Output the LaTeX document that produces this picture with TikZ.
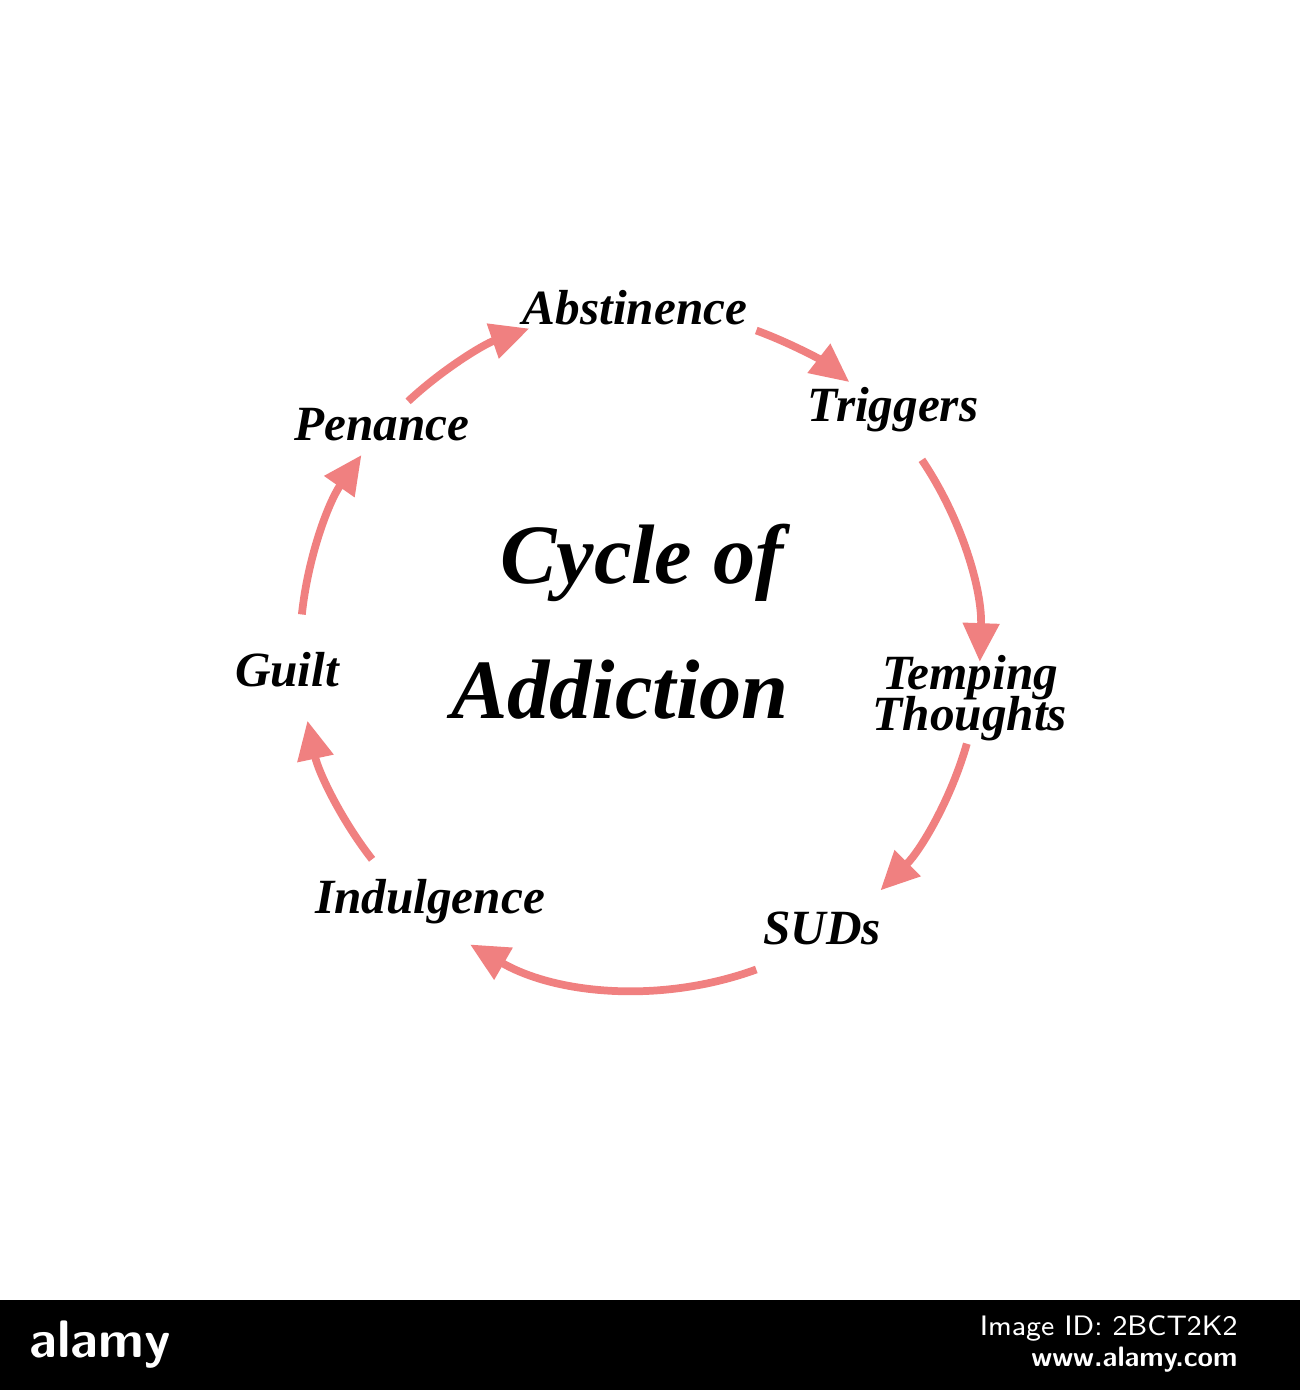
\documentclass[tikz,border=0pt]{standalone}
\usepackage{fontspec}
\setmainfont{Liberation Serif}
\usetikzlibrary{arrows.meta}
\definecolor{arr}{RGB}{240,128,128}
\begin{document}
\begin{tikzpicture}[x=0.01cm,y=0.01cm,
  lab/.style={font=\fontsize{14}{14}\selectfont\bfseries\itshape,inner sep=0},
  ttl/.style={font=\fontsize{24}{24}\selectfont\bfseries\itshape,inner sep=0},
  cyc/.style={draw=arr,line width=2.2pt,-{Triangle[length=11pt,width=10pt]}}]
\fill[white] (0,0) rectangle (1300,1390);
\useasboundingbox (0,0) rectangle (1300,1390);
\coordinate (c) at (640,740);
\node[lab] (abs) at (635,1082) {Abstinence};
\node[lab,align=center] (tmp) at (970,692) {Temping\\[-2.5pt]Thoughts};
\node[lab] (trg) at (893,980) {Triggers};
\node[lab] (sud) at (822,462) {SUDs};
\node[lab] (ind) at (430,488) {Indulgence};
\node[lab] (glt) at (287,720) {Guilt};
\node[lab] (pen) at (382,965) {Penance};
\node[ttl] (t1) at (642,827) {Cycle of};
\node[ttl] (t2) at (620,700) {Addiction};
\draw[cyc] (c) ++(70:340) arc (70:52:340);
\draw[cyc] (c) ++(34:340) arc (34:-2:340);
\draw[cyc] (c) ++(-16:340) arc (-16:-45:340);
\draw[cyc] (c) ++(-70:340) arc (-70:-120:340);
\draw[cyc] (c) ++(-142:340) arc (-142:-168:340);
\draw[cyc] (c) ++(174:340) arc (174:145:340);
\draw[cyc] (c) ++(133:340) arc (133:109:340);
\fill[black] (0,0) rectangle (1300,90);
\node[text=white,font=\fontsize{15}{15}\selectfont\sffamily\bfseries] (al) at (100,45) {alamy};
\node[text=white,font=\fontsize{8}{8}\selectfont\sffamily,anchor=east] (id) at (1250,62) {Image ID: 2BCT2K2};
\node[text=white,font=\fontsize{8}{8}\selectfont\sffamily\bfseries,anchor=east] (www) at (1250,30) {www.alamy.com};
\end{tikzpicture}
\end{document}
